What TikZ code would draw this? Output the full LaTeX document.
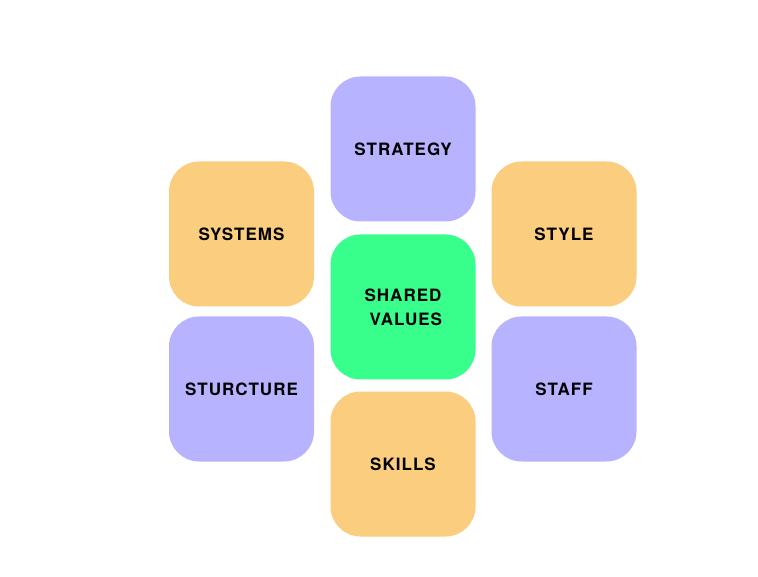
\documentclass[tikz,border=0pt]{standalone}
\usepackage{fontspec}
\newfontfamily\labelfont[LetterSpace=6]{TeX Gyre Heros}
\usetikzlibrary{
  calc,
  positioning
}
\definecolor{lavender}{HTML}{B7B3FF}
\definecolor{apricot}{HTML}{FBCD7E}
\definecolor{mint}{HTML}{38FF8B}
\tikzset{
  % For the rounded tiles.
  tile/.style={
    minimum size=145pt,
    inner sep=0pt,
    outer sep=0pt,
    rounded corners=30pt,
    align=center,
    font=\labelfont\bfseries\fontsize{17pt}{24pt}\selectfont},
%
  % Tile colours.
  purple tile/.style={
    tile,
    fill=lavender},
  orange tile/.style={
    tile,
    fill=apricot},
  green tile/.style={
    tile,
    fill=mint}
}

\begin{document}
\begin{tikzpicture}[x=1pt, y=-1pt]
  \useasboundingbox[fill=white] (0,0) rectangle (758,577);

  \node[green tile] (shared values) at (403,307) {SHARED\\ \ VALUES};

  \node[purple tile] (strategy) at (403,149) {STRATEGY};
  \node[orange tile] (skills) at (403,464) {SKILLS};

  \node[orange tile] (systems) at (241.5,234) {SYSTEMS};
  \node[purple tile] (structure) at (241.5,389) {STURCTURE};

  \node[orange tile] (style) at (564,234) {STYLE};
  \node[purple tile] (staff) at (564,389) {STAFF};
\end{tikzpicture}
\end{document}
